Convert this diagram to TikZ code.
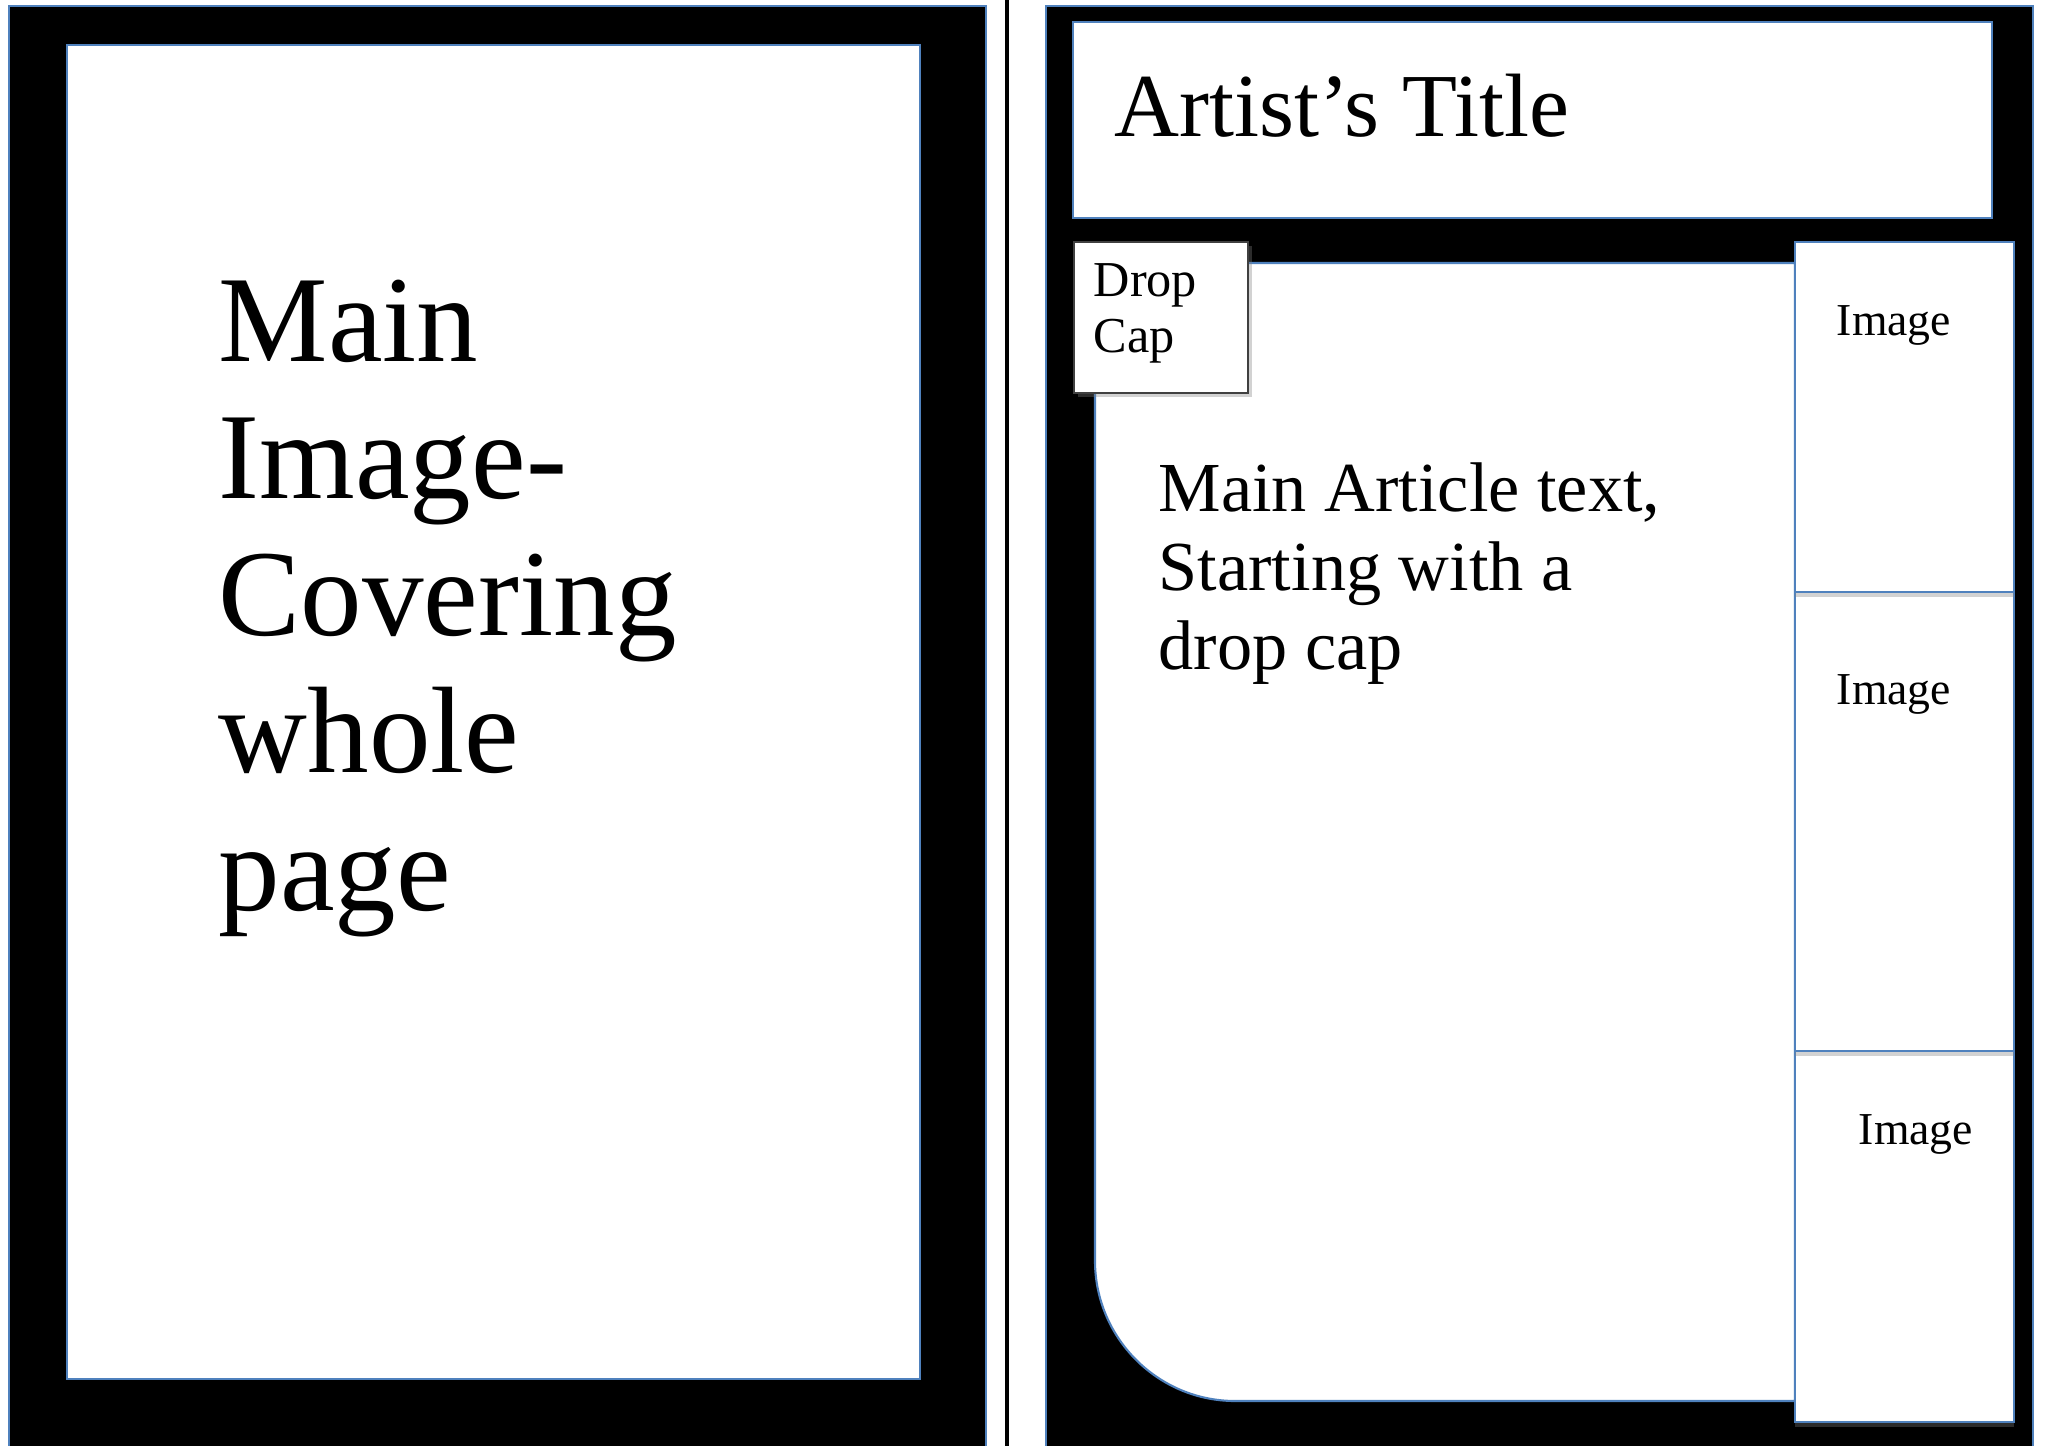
\documentclass[tikz,border=0pt]{standalone}
\usepackage{fontspec}
\setmainfont{Liberation Serif}
\usetikzlibrary{shadows}
\definecolor{edgeblue}{RGB}{79,129,189}
\tikzset{
    panel/.style = {fill=white, draw=edgeblue, line width=0.6pt},
    imgbox/.style = {panel, drop shadow={shadow xshift=0pt, shadow yshift=-1.4pt, opacity=0.35}},
    capbox/.style = {fill=white, draw=black!75, line width=0.6pt, drop shadow={shadow xshift=1.2pt, shadow yshift=-1.2pt, opacity=0.35}},
    pagetext/.style = {inner sep=0, anchor=base west, align=left},
}
\begin{document}
\begin{tikzpicture}[x=0.1mm, y=-0.1mm]
            \fill[white] (0,0) rectangle (2048,1446);
            \useasboundingbox (0,0) rectangle (2048,1446);

            % left page
            \fill (9,6) rectangle (986,1446);
            \draw[edgeblue, line width=0.6pt] (9,1446) |- (986,6) -- (986,1446);
            \draw[panel] (67,45) rectangle (920,1379);
            % base = last line
            \node[pagetext, font=\fontsize{35}{39}\selectfont] (cover) at (218,910) {Main\\Image-\\Covering\\whole\\page};

            \draw[line width=1.4pt] (1007,0) -- (1007,1446);

            % right page
            \fill (1046,6) rectangle (2033,1446);
            \draw[edgeblue, line width=0.6pt] (1046,1446) |- (2033,6) -- (2033,1446);
            \draw[panel] (1073,22) rectangle (1992,218);
            \node[pagetext, font=\fontsize{25.6}{28}\selectfont] (title) at (1114,137) {Artist’s Title};
            \draw[panel] (1795,263) -- (1095,263) -- (1095,1261) .. controls (1095,1338) and (1158,1401) .. (1235,1401) -- (1795,1401) -- cycle;
            \node[pagetext, font=\fontsize{20}{22.5}\selectfont] (article) at (1158,670) {Main Article text,\\Starting with a\\drop cap};

            \draw[imgbox] (1795,1051) rectangle (2014,1422);
            \draw[imgbox] (1795,592) rectangle (2014,1051);
            \draw[imgbox] (1795,242) rectangle (2014,592);
            \node[inner sep=0, anchor=base, font=\fontsize{13}{15}\selectfont] (imgA) at (1894,336) {Image};
            \node[inner sep=0, anchor=base, font=\fontsize{13}{15}\selectfont] (imgB) at (1894,705) {Image};
            \node[inner sep=0, anchor=base, font=\fontsize{13}{15}\selectfont] (imgC) at (1916,1144) {Image};

            \draw[capbox] (1074,242) rectangle (1248,393);
            \node[pagetext, font=\fontsize{14.3}{16}\selectfont] (dropcap) at (1093,353) {Drop\\Cap};
\end{tikzpicture}
\end{document}
